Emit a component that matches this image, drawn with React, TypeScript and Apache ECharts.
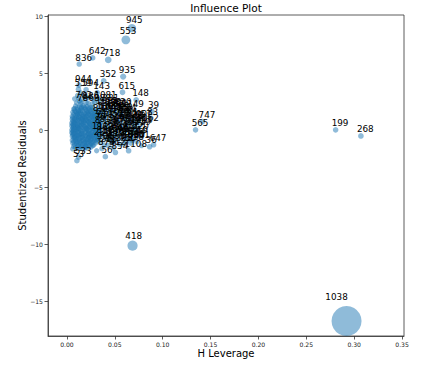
import React, { useEffect, useRef } from "react";
import * as echarts from "echarts";

// Labeled observations (id, hat leverage, studentized residual, Cook's-like influence)
const labeledIds = [
  "945", "553", "642", "718", "836", "352", "935", "944", "559", "594",
  "143", "615", "148", "747", "565", "199", "268", "418", "1038",
  "53", "533", "874", "56", "854", "1108", "938", "36", "647",
  "39", "83", "2062", "7090", "880", "820", "43",
  "702", "78", "886", "688", "1081", "381",
  "512", "97", "1013", "264", "811", "73", "409", "1127", "36", "690",
  "229", "58", "931", "177", "442", "819", "1004", "620", "385", "1051",
  "282", "64", "906", "13", "750", "348", "1066", "215", "873", "457",
  "8", "1112", "89", "990", "603",
  "1021", "117", "45", "760", "302", "95", "1149", "24", "678", "129",
  "1090", "3", "84", "530", "1003", "71", "441", "219", "19", "863",
  "1100", "27", "590", "388", "63", "1084", "12", "744", "301", "49",
  "912", "230", "79", "1041", "33",
];
const labeledLeverage = [
  0.0678, 0.0615, 0.0269, 0.0431, 0.0128, 0.0384, 0.0587, 0.0125, 0.012, 0.02,
  0.0316, 0.058, 0.0723, 0.1416, 0.1343, 0.2806, 0.307, 0.0685, 0.292,
  0.0104, 0.0122, 0.0366, 0.0401, 0.0506, 0.0644, 0.0669, 0.0863, 0.0905,
  0.0888, 0.0877, 0.0767, 0.0645, 0.0436, 0.054, 0.0572,
  0.0128, 0.0144, 0.0201, 0.0264, 0.0326, 0.041,
  0.036, 0.041, 0.047, 0.052, 0.038, 0.044, 0.05, 0.036, 0.042, 0.048,
  0.055, 0.06, 0.058, 0.062, 0.056, 0.064, 0.07, 0.072, 0.068, 0.04,
  0.046, 0.034, 0.035, 0.053, 0.059, 0.066, 0.045, 0.039, 0.05, 0.075,
  0.033, 0.03, 0.031, 0.061, 0.054,
  0.034, 0.039, 0.044, 0.049, 0.052, 0.057, 0.061, 0.065, 0.036, 0.041,
  0.047, 0.052, 0.056, 0.06, 0.063, 0.067, 0.07, 0.074, 0.077, 0.035,
  0.04, 0.046, 0.051, 0.055, 0.058, 0.062, 0.066, 0.069, 0.073, 0.043,
  0.048, 0.032, 0.033, 0.038, 0.072,
];
const labeledResid = [
  8.95, 7.92, 6.34, 6.17, 5.8, 4.32, 4.7, 3.95, 3.6, 3.55,
  3.3, 3.33, 2.66, 0.75, 0.03, 0.03, -0.5, -10.12, -16.73,
  -2.67, -2.35, -1.62, -2.32, -1.95, -1.8, -1.13, -1.45, -1.27,
  1.65, 1.06, 0.48, 0.83, 1.91, 1.95, 1.21,
  2.57, 2.3, 2.4, 2.3, 2.5, 2.3,
  1.6, 1.3, 1.0, 0.7, 0.4, 0.1, -0.2, -0.5, -0.8, -1.1,
  1.5, 1.2, 0.4, 0.0, -0.4, -0.7, 0.3, -0.2, -0.9, 0.9,
  1.7, 1.0, -1.1, -0.8, -1.2, 0.7, -0.4, -1.3, 1.3, 0.9,
  0.3, -0.2, 1.4, -0.6, 0.2,
  2.0, 1.8, 1.55, 1.85, 1.6, 1.35, 1.7, 1.4, 0.75, 0.25,
  0.55, 0.05, 0.65, 0.9, 0.25, 1.05, 0.55, 0.15, -0.55, -0.25,
  -0.65, -0.95, -0.45, -1.25, -0.75, -1.0, -0.15, -0.65, -1.0, -1.35,
  -1.55, -0.75, 0.6, 1.45, 0.75,
];
const labeledInfluence = [
  0.05, 0.056, 0.003, 0.02, 0.003, 0.006, 0.013, 0.003, 0.003, 0.003,
  0.004, 0.006, 0.005, 0.004, 0.003, 0.004, 0.005, 0.086, 1.0,
  0.003, 0.003, 0.003, 0.004, 0.004, 0.005, 0.003, 0.004, 0.004,
  0.005, 0.003, 0.004, 0.003, 0.003, 0.003, 0.003,
  0.002, 0.002, 0.002, 0.002, 0.002, 0.002,
  0.002, 0.002, 0.002, 0.002, 0.002, 0.002, 0.002, 0.002, 0.002, 0.002,
  0.002, 0.002, 0.002, 0.002, 0.002, 0.002, 0.002, 0.002, 0.002, 0.002,
  0.002, 0.002, 0.002, 0.002, 0.002, 0.002, 0.002, 0.002, 0.002, 0.002,
  0.002, 0.002, 0.002, 0.002, 0.002,
  0.002, 0.002, 0.002, 0.002, 0.002, 0.002, 0.002, 0.002, 0.002, 0.002,
  0.002, 0.002, 0.002, 0.002, 0.002, 0.002, 0.002, 0.002, 0.002, 0.002,
  0.002, 0.002, 0.002, 0.002, 0.002, 0.002, 0.002, 0.002, 0.002, 0.002,
  0.002, 0.002, 0.002, 0.002, 0.002,
];

// Unlabeled observations: [hat leverage, studentized residual]
const otherPoints: [number, number][] = [
  [0.009, 2.12], [0.013, 2.05], [0.017, 2.15], [0.021, 2.08], [0.025, 2.02],
  [0.007, 1.86], [0.011, 1.8], [0.015, 1.9], [0.019, 1.83], [0.023, 1.88], [0.027, 1.79], [0.031, 1.84],
  [0.006, 1.57], [0.01, 1.5], [0.014, 1.6], [0.018, 1.53], [0.022, 1.58], [0.026, 1.49], [0.03, 1.55], [0.034, 1.52],
  [0.0055, 1.22], [0.009, 1.28], [0.013, 1.2], [0.017, 1.27], [0.021, 1.23], [0.025, 1.3], [0.029, 1.21], [0.033, 1.26],
  [0.0055, 0.97], [0.008, 0.91], [0.012, 0.98], [0.016, 0.93], [0.02, 0.96], [0.024, 0.9], [0.028, 0.99], [0.032, 0.94],
  [0.005, 0.62], [0.008, 0.68], [0.011, 0.6], [0.015, 0.66], [0.019, 0.63], [0.023, 0.69], [0.027, 0.61], [0.031, 0.67], [0.035, 0.64],
  [0.005, 0.37], [0.007, 0.31], [0.011, 0.38], [0.014, 0.33], [0.018, 0.36], [0.022, 0.3], [0.026, 0.39], [0.03, 0.34], [0.034, 0.32],
  [0.005, 0.02], [0.007, 0.08], [0.01, 0.0], [0.014, 0.06], [0.018, 0.03], [0.021, 0.09], [0.025, 0.01], [0.029, 0.07], [0.033, 0.04],
  [0.005, -0.22], [0.008, -0.28], [0.011, -0.2], [0.015, -0.27], [0.019, -0.23], [0.022, -0.3], [0.026, -0.21], [0.03, -0.26], [0.034, -0.24],
  [0.0055, -0.52], [0.008, -0.58], [0.012, -0.5], [0.016, -0.57], [0.02, -0.53], [0.023, -0.6], [0.027, -0.51], [0.031, -0.56],
  [0.0055, -0.88], [0.009, -0.82], [0.013, -0.9], [0.017, -0.84], [0.021, -0.87], [0.025, -0.81], [0.029, -0.89], [0.033, -0.83],
  [0.006, -1.12], [0.01, -1.18], [0.014, -1.1], [0.018, -1.17], [0.022, -1.13], [0.026, -1.19], [0.03, -1.11],
  [0.007, -1.42], [0.011, -1.36], [0.015, -1.44], [0.019, -1.38], [0.023, -1.41], [0.027, -1.35],
  [0.006, -1.64], [0.012, -1.58], [0.017, -1.62], [0.021, -1.58], [0.031, -1.8],
  [0.008, 2.75], [0.012, 2.82], [0.016, 2.7], [0.02, 2.78], [0.024, 2.85], [0.028, 2.72], [0.033, 2.8], [0.037, 2.68],
  [0.01, 2.4], [0.015, 2.45], [0.022, 2.38], [0.029, 2.42], [0.011, 3.05], [0.018, 3.1], [0.014, 3.3],
  [0.038, 1.1], [0.042, 0.6], [0.046, 0.2], [0.04, -0.2], [0.044, -0.6], [0.049, -1.0],
  [0.053, 0.9], [0.057, -0.1], [0.062, 0.5], [0.067, -0.4], [0.071, 0.1], [0.078, -1.35],
  [0.011, 1.97], [0.015, 2.0], [0.019, 1.95], [0.023, 1.99], [0.027, 1.96],
  [0.008, 1.71], [0.012, 1.68], [0.016, 1.73], [0.02, 1.69], [0.024, 1.72], [0.028, 1.67], [0.032, 1.7],
  [0.007, 1.41], [0.011, 1.37], [0.015, 1.43], [0.019, 1.39], [0.023, 1.42], [0.027, 1.36], [0.031, 1.4],
  [0.006, 1.09], [0.01, 1.13], [0.014, 1.07], [0.018, 1.12], [0.022, 1.08], [0.026, 1.14], [0.03, 1.06], [0.034, 1.11],
  [0.006, 0.79], [0.01, 0.83], [0.013, 0.77], [0.017, 0.82], [0.021, 0.78], [0.025, 0.84], [0.029, 0.76], [0.033, 0.81],
  [0.006, 0.49], [0.009, 0.53], [0.013, 0.47], [0.016, 0.52], [0.02, 0.48], [0.024, 0.54], [0.028, 0.46], [0.032, 0.51],
  [0.006, 0.19], [0.009, 0.23], [0.012, 0.17], [0.016, 0.22], [0.02, 0.18], [0.023, 0.24], [0.027, 0.16], [0.031, 0.21], [0.035, 0.18],
  [0.006, -0.09], [0.009, -0.13], [0.012, -0.07], [0.016, -0.12], [0.02, -0.08], [0.023, -0.14], [0.027, -0.06], [0.031, -0.11], [0.035, -0.1],
  [0.006, -0.39], [0.01, -0.43], [0.013, -0.37], [0.017, -0.42], [0.021, -0.38], [0.024, -0.44], [0.028, -0.36], [0.032, -0.41],
  [0.007, -0.69], [0.01, -0.73], [0.014, -0.67], [0.018, -0.72], [0.022, -0.68], [0.025, -0.74], [0.029, -0.66], [0.033, -0.71],
  [0.007, -0.99], [0.011, -1.03], [0.015, -0.97], [0.019, -1.02], [0.023, -0.98], [0.027, -1.04], [0.031, -0.96],
  [0.008, -1.28], [0.012, -1.32], [0.016, -1.26], [0.02, -1.31], [0.024, -1.27], [0.028, -1.3],
  [0.009, -1.52], [0.014, -1.5], [0.019, -1.53], [0.025, -1.49],
  [0.009, 1.62], [0.013, 1.45], [0.017, 1.35], [0.021, 1.5], [0.025, 1.62], [0.029, 1.45],
  [0.008, 1.05], [0.012, 1.15], [0.016, 1.02], [0.02, 1.18], [0.024, 1.04], [0.028, 1.16],
  [0.007, 0.72], [0.011, 0.85], [0.015, 0.74], [0.019, 0.88], [0.023, 0.75], [0.027, 0.86], [0.031, 0.73],
  [0.007, 0.42], [0.011, 0.28], [0.015, 0.44], [0.019, 0.26], [0.023, 0.43], [0.027, 0.27], [0.031, 0.45],
  [0.007, -0.03], [0.011, 0.12], [0.015, -0.04], [0.019, 0.13], [0.023, -0.02], [0.027, 0.14], [0.031, -0.03],
  [0.007, -0.33], [0.011, -0.47], [0.015, -0.34], [0.019, -0.48], [0.023, -0.32], [0.027, -0.46], [0.031, -0.33],
  [0.008, -0.63], [0.012, -0.77], [0.016, -0.64], [0.02, -0.78], [0.024, -0.62], [0.028, -0.76],
  [0.009, -0.95], [0.013, -1.07], [0.017, -0.94], [0.021, -1.08], [0.025, -0.93],
  [0.008, 1.9], [0.012, 1.55], [0.016, 1.18], [0.02, 0.86], [0.024, 0.55], [0.028, 0.22], [0.03, -0.15],
  [0.026, -0.5], [0.022, -0.8], [0.018, -1.15], [0.014, -1.4], [0.01, -1.05], [0.009, -0.6], [0.0065, -0.25],
  [0.0085, 0.1], [0.0075, 0.55], [0.009, 0.95], [0.0105, 1.35], [0.014, 1.75], [0.018, 2.0], [0.022, 1.65],
  [0.026, 1.25], [0.03, 0.95], [0.033, 0.5], [0.034, 0.05], [0.032, -0.45], [0.03, -0.85], [0.025, -1.1],
  [0.02, -1.45], [0.016, -0.3], [0.013, 0.15], [0.017, 0.5], [0.021, 0.1], [0.025, -0.3], [0.013, -0.65],
  [0.018, 0.7], [0.022, 1.3], [0.015, 0.95], [0.011, 0.45], [0.012, -0.25], [0.024, 0.35], [0.028, 0.6],
];

const xTicks = [0, 0.05, 0.1, 0.15, 0.2, 0.25, 0.3, 0.35];
const yTicks = [-15, -10, -5, 0, 5, 10];

const FONT = "DejaVu Sans";
const POINT_COLOR = "rgba(31,119,180,0.5)";

function diameter(infl: number): number {
  return Math.sqrt(28 + 872 * infl);
}

export default function App() {
  const ref = useRef<HTMLDivElement>(null);

  useEffect(() => {
    if (!ref.current) return;
    const chart = echarts.init(ref.current, undefined, { renderer: "svg" });

    const labeledData = labeledIds.map((id, i) => {
      const d = diameter(labeledInfluence[i]);
      const off = 0.414 * (d / 2);
      return {
        value: [labeledLeverage[i], labeledResid[i]],
        symbolSize: d,
        label: {
          show: true,
          formatter: id,
          position: [-off, -off + 2],
          align: "left",
          verticalAlign: "bottom",
        },
      };
    });

    const axisCommon = {
      type: "value" as const,
      splitLine: { show: false },
      axisLine: { show: true, onZero: false, lineStyle: { color: "#333", width: 0.8 } },
      nameLocation: "middle" as const,
      nameMoveOverlap: false,
      nameTextStyle: { fontSize: 10, color: "#000", fontFamily: FONT },
    };

    chart.setOption({
      animation: false,
      backgroundColor: "#fff",
      grid: {
        left: 48,
        right: 22,
        top: 15,
        bottom: 33,
        show: true,
        borderColor: "#333",
        borderWidth: 0.8,
      },
      graphic: [
        {
          type: "text",
          x: 226,
          y: 2,
          style: {
            text: "Influence Plot",
            fontSize: 10.5,
            fontFamily: FONT,
            fill: "#000",
            textAlign: "center",
          },
        },
      ],
      xAxis: {
        ...axisCommon,
        min: -0.0198,
        max: 0.352,
        name: "H Leverage",
        nameGap: 12,
        axisTick: { show: true, customValues: xTicks, length: 3.5, lineStyle: { color: "#333", width: 0.8 } },
        axisLabel: {
          customValues: xTicks,
          formatter: (v: number) => v.toFixed(2),
          fontSize: 6.1,
          color: "#222",
          fontFamily: FONT,
          margin: 5,
        },
      },
      yAxis: {
        ...axisCommon,
        min: -18.04,
        max: 10.1,
        name: "Studentized Residuals",
        nameGap: 21,
        axisTick: { show: true, customValues: yTicks, length: 3.5, lineStyle: { color: "#333", width: 0.8 } },
        axisLabel: {
          customValues: yTicks,
          formatter: (v: number) => (v < 0 ? "\u2212" + Math.abs(v) : String(v)),
          fontSize: 6.1,
          color: "#222",
          fontFamily: FONT,
          margin: 5,
        },
      },
      series: [
        {
          type: "scatter",
          data: otherPoints,
          symbolSize: diameter(0),
          itemStyle: { color: POINT_COLOR, opacity: 1 },
          silent: true,
        },
        {
          type: "scatter",
          data: labeledData,
          itemStyle: { color: POINT_COLOR, opacity: 1 },
          label: { color: "#000", fontSize: 8.8, fontFamily: FONT },
          silent: true,
        },
      ],
    });

    return () => chart.dispose();
  }, []);

  return (
    <div
      ref={ref}
      style={{ position: "fixed", left: 0, top: 0, width: 426, height: 369, background: "#fff" }}
    />
  );
}
